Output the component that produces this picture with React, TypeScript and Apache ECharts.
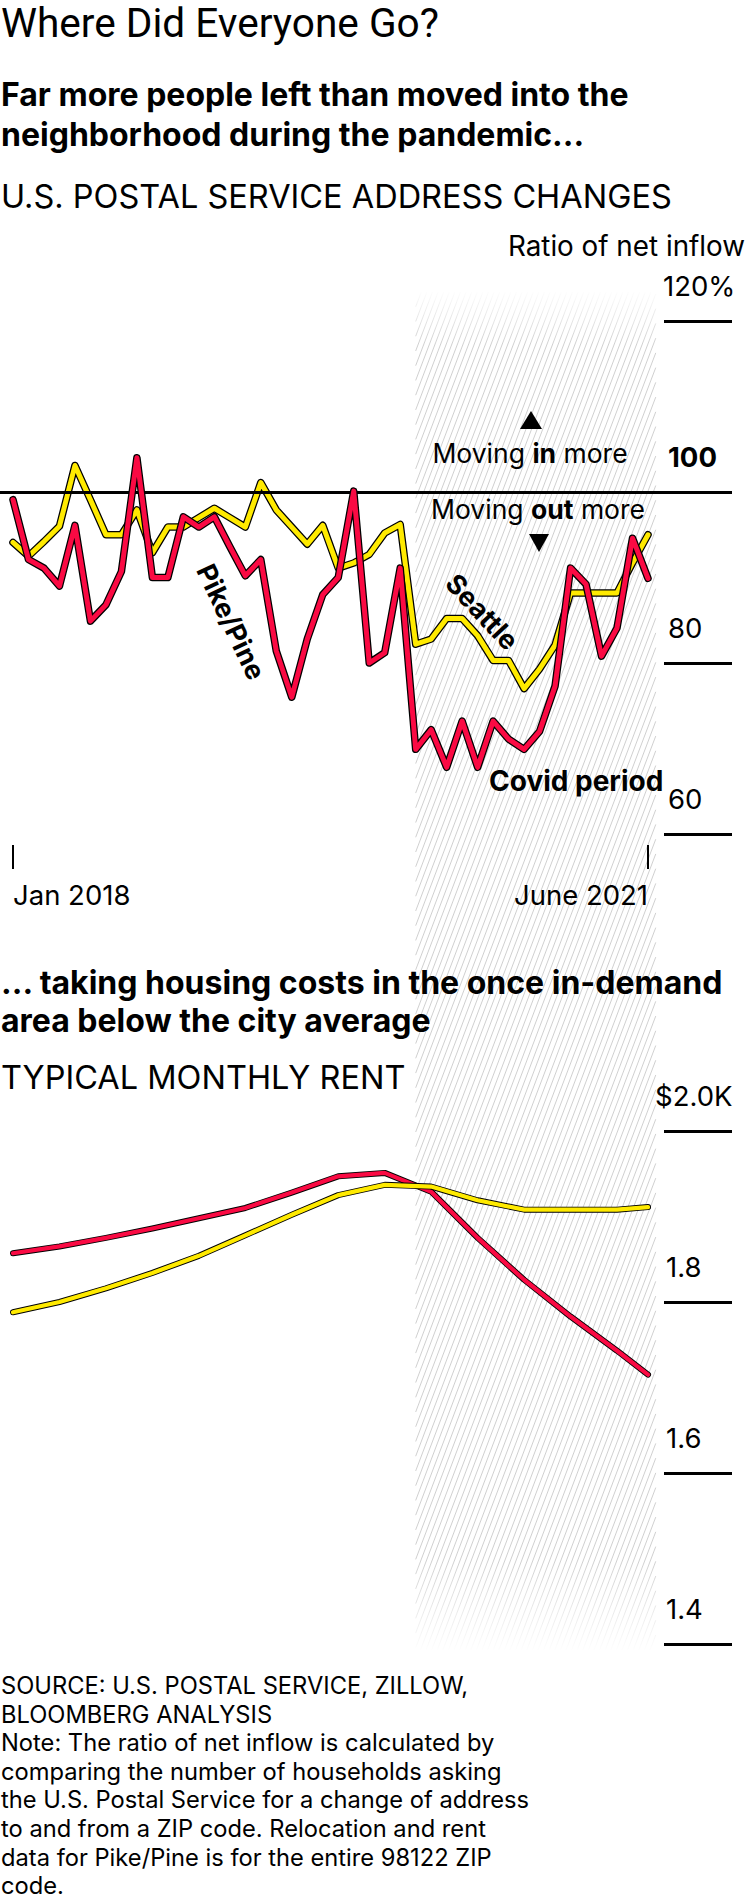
import React, { useEffect, useRef } from "react";
import * as echarts from "echarts";

// ---- Data -----------------------------------------------------------------

// Months are indexed from Jan 2018 (0) to June 2021 (41)
const firstMonth = 0;
const lastMonth = 41;
const monthLabels = ["Jan 2018", "June 2021"];
const covidStartMonth = 26; // March 2020
const covidEndMonth = 41.5; // through June 2021

// USPS address changes: ratio of net inflow (%), monthly
const pikePineInflow = [
  99.1, 92.1, 91.1, 89.0, 96.1, 84.9, 86.8, 90.7, 104.0, 90.0, 90.0, 97.1,
  95.9, 97.1, 93.6, 90.2, 92.1, 81.4, 76.0, 82.8, 88.0, 90.0, 100.1, 80.0,
  81.2, 91.1, 69.9, 72.2, 67.8, 73.2, 67.8, 73.2, 71.1, 69.9, 72.0, 77.3,
  91.1, 89.2, 80.8, 84.1, 94.6, 89.9,
];
const seattleInflow = [
  94.1, 92.5, 94.2, 96.0, 103.1, 99.1, 95.0, 95.0, 97.9, 92.9, 95.9, 95.9,
  97.0, 98.1, 97.0, 95.9, 101.1, 97.9, 95.9, 93.9, 96.1, 91.1, 91.7, 92.7,
  95.2, 96.2, 82.2, 82.8, 85.2, 85.2, 83.2, 80.3, 80.3, 77.0, 79.3, 82.1,
  88.2, 88.2, 88.2, 88.2, 91.7, 95.0,
];
const inflowMin = 60;
const inflowMax = 120;
const inflowStep = 20;

// Zillow typical monthly rent ($)
const rentMonths = [0, 3, 6, 9, 12, 15, 18, 21, 24, 27, 30, 33, 36, 39, 41];
const pikePineRent = [
  1857, 1865, 1875, 1886, 1898, 1910, 1928, 1947, 1951, 1929, 1875, 1826,
  1783, 1743, 1715,
];
const seattleRent = [
  1788, 1800, 1816, 1834, 1854, 1878, 1902, 1925, 1937, 1935, 1919, 1908,
  1908, 1908, 1911,
];
const rentMin = 1400;
const rentMax = 2000;
const rentStep = 200;

// ---- Styling & layout -------------------------------------------------------

const FONT = "Inter, 'Noto Sans', 'DejaVu Sans', sans-serif";
const TITLE_FONT = "Roboto, 'Liberation Sans', sans-serif";
const RED = "#fa0a43";
const YELLOW = "#ffea00";
const INK = "#000";
const AXIS_FONT_SIZE = 27.5;

const X_FIRST = 13; // pixel x of the first month
const X_LAST = 648; // pixel x of the last month
const PLOT_RIGHT = 732; // right end of the axis rules
const PX_PER_MONTH = (X_LAST - X_FIRST) / (lastMonth - firstMonth);
const X_MIN = firstMonth - X_FIRST / PX_PER_MONTH;
const X_MAX = lastMonth + (PLOT_RIGHT - X_LAST) / PX_PER_MONTH;
const monthX = (m: number) => X_FIRST + (m - firstMonth) * PX_PER_MONTH;

const TOP_GRID = { top: 321, height: 513 };
const RENT_GRID = { top: 1131, height: 513 };

const footnote = [
  "SOURCE: U.S. POSTAL SERVICE, ZILLOW,",
  "BLOOMBERG ANALYSIS",
  "Note: The ratio of net inflow is calculated by",
  "comparing the number of households asking",
  "the U.S. Postal Service for a change of address",
  "to and from a ZIP code. Relocation and rent",
  "data for Pike/Pine is for the entire 98122 ZIP",
  "code.",
];

type TextOpts = {
  weight?: string;
  align?: string;
  family?: string;
  rich?: Record<string, any>;
};

// Text placed by its baseline
function txt(text: string, x: number, baseline: number, size: number, o: TextOpts = {}) {
  return {
    type: "text",
    x,
    y: baseline - 0.36 * size,
    z: 20,
    silent: true,
    style: {
      text,
      fill: INK,
      fontFamily: o.family || FONT,
      fontSize: size,
      fontWeight: o.weight || "normal",
      align: o.align || "left",
      verticalAlign: "middle",
      rich: o.rich,
    },
  };
}

// Text rotated about its centre
function rotated(text: string, cx: number, cy: number, size: number, deg: number) {
  return {
    type: "text",
    x: cx,
    y: cy,
    rotation: (deg * Math.PI) / 180,
    z: 20,
    silent: true,
    style: {
      text,
      fill: INK,
      fontFamily: FONT,
      fontSize: size,
      fontWeight: "bold",
      align: "center",
      verticalAlign: "middle",
    },
  };
}

// Diagonal hatching clipped to a rectangle
function hatch(x0: number, x1: number, y0: number, y1: number, step: number, k: number) {
  const out: any[] = [];
  for (let c = x0 - (y1 - y0) * k; c < x1; c += step) {
    const yTop = Math.max(y0, y1 - (x1 - c) / k);
    const yBot = Math.min(y1, y1 - (x0 - c) / k);
    if (yBot <= yTop) continue;
    out.push({
      type: "line",
      silent: true,
      z: 0,
      shape: {
        x1: c + (y1 - yBot) * k,
        y1: yBot,
        x2: c + (y1 - yTop) * k,
        y2: yTop,
      },
      style: { stroke: "#c8c8c8", lineWidth: 0.85 },
    });
  }
  return out;
}

function outlined(
  name: string,
  data: number[][],
  color: string,
  grid: number,
  core: number,
  edge: number,
  z: number
) {
  const base = {
    type: "line",
    name,
    data,
    xAxisIndex: grid === 0 ? 0 : 2,
    yAxisIndex: grid,
    showSymbol: false,
    symbol: "none",
    silent: true,
    emphasis: { disabled: true },
  };
  return [
    { ...base, z, lineStyle: { color: INK, width: edge, cap: "round", join: "round" } },
    { ...base, z: z + 1, lineStyle: { color, width: core, cap: "round", join: "round" } },
  ];
}

// Tick labels are right-anchored at the end of the tick rules; each label
// sits in a box whose width sets where its text starts.
const labelBox = (width: number, bold = false) => ({
  width,
  align: "left",
  fontFamily: FONT,
  fontSize: AXIS_FONT_SIZE,
  fontWeight: bold ? "bold" : "normal",
  color: INK,
});
const tickLabelRich = {
  n: labelBox(66),
  s: labelBox(64),
  w: labelBox(69),
  d: labelBox(77),
  b: labelBox(64, true),
};

function yAxisFor(gridIndex: number, min: number, max: number, interval: number, formatter: (v: number) => string) {
  return {
    type: "value",
    gridIndex,
    min,
    max,
    interval,
    position: "right",
    axisLine: { show: false, onZero: false },
    splitLine: { show: false },
    axisTick: { show: true, inside: true, length: 68, lineStyle: { color: INK, width: 3 } },
    axisLabel: {
      inside: true,
      margin: 0,
      align: "right",
      verticalAlign: "bottom",
      padding: [0, 0, 21, 0],
      fontFamily: FONT,
      fontSize: AXIS_FONT_SIZE,
      color: INK,
      formatter,
      rich: tickLabelRich,
    },
  };
}

function xAxisFor(gridIndex: number, month: number | null, align: string) {
  const show = month !== null;
  return {
    type: "value",
    gridIndex,
    min: X_MIN,
    max: X_MAX,
    position: "bottom",
    offset: 11,
    show,
    axisLine: { show: false, onZero: false },
    splitLine: { show: false },
    axisTick: {
      show,
      customValues: show ? [month] : [],
      length: 24,
      lineStyle: { color: INK, width: 2 },
    },
    axisLabel: {
      show,
      customValues: show ? [month] : [],
      formatter: (v: number) => (v === firstMonth ? monthLabels[0] : monthLabels[1]),
      align,
      margin: 36,
      fontFamily: FONT,
      fontSize: AXIS_FONT_SIZE,
      color: INK,
    },
  };
}

function inflowLabel(v: number) {
  if (v === 100) return `{b|${v}}`;
  if (v === inflowMax) return `{w|${v}%}`;
  return `{s|${v}}`;
}

function rentLabel(v: number) {
  const k = (v / 1000).toFixed(1);
  return v === rentMax ? `{d|$${k}K}` : `{n|${k}}`;
}

function buildOption() {
  const inflowPP = pikePineInflow.map((v, i) => [firstMonth + i, v]);
  const inflowSea = seattleInflow.map((v, i) => [firstMonth + i, v]);
  const rentPP = rentMonths.map((m, i) => [m, pikePineRent[i]]);
  const rentSea = rentMonths.map((m, i) => [m, seattleRent[i]]);

  const bandL = monthX(covidStartMonth);
  const bandR = monthX(covidEndMonth);
  const bandTop = 292;
  const bandBot = 1650;

  const fade = (y0: number, y1: number, fromOpaque: boolean) => ({
    type: "rect",
    silent: true,
    z: 1,
    shape: { x: bandL - 2, y: y0, width: bandR - bandL + 4, height: y1 - y0 },
    style: {
      fill: {
        type: "linear",
        x: 0,
        y: 0,
        x2: 0,
        y2: 1,
        colorStops: [
          { offset: 0, color: fromOpaque ? "rgba(255,255,255,1)" : "rgba(255,255,255,0)" },
          { offset: 1, color: fromOpaque ? "rgba(255,255,255,0)" : "rgba(255,255,255,1)" },
        ],
      },
    },
  });

  const rich = { b: { fontFamily: FONT, fontSize: 26.5, fontWeight: "bold", fill: INK } };

  const elements: any[] = [
    ...hatch(bandL, bandR, bandTop, bandBot, 5.6, 0.38),
    fade(bandTop - 2, 345, true),
    fade(1560, bandBot + 2, false),

    txt("Where Did Everyone Go?", 1, 38, 40.6, { family: TITLE_FONT }),
    txt("Far more people left than moved into the", 1, 106, 32, { weight: "bold" }),
    txt("neighborhood during the pandemic...", 1, 146, 32, { weight: "bold" }),
    txt("U.S. POSTAL SERVICE ADDRESS CHANGES", 1, 208, 32.5),
    txt("Ratio of net inflow", 745, 256, 27.8, { align: "right" }),

    {
      type: "polygon",
      silent: true,
      z: 20,
      shape: { points: [[520, 429], [542, 429], [531, 411]] },
      style: { fill: INK },
    },
    txt("Moving {b|in} more", 530, 463, 26.5, { align: "center", rich }),
    txt("Moving {b|out} more", 538, 519, 26.5, { align: "center", rich }),
    {
      type: "polygon",
      silent: true,
      z: 20,
      shape: { points: [[529, 534], [549, 534], [539, 552]] },
      style: { fill: INK },
    },

    rotated("Pike/Pine", 231, 622, 27, -64.5),
    rotated("Seattle", 482, 612, 27, -47),
    txt("Covid period", 489, 791, 28, { weight: "bold" }),

    txt("... taking housing costs in the once in-demand", 1, 994, 32, { weight: "bold" }),
    txt("area below the city average", 1, 1032, 32, { weight: "bold" }),
    txt("TYPICAL MONTHLY RENT", 1, 1089, 32.5),

    ...footnote.map((line, i) => txt(line, 1, 1694 + i * 28.6, 23.7)),
  ];

  return {
    animation: false,
    backgroundColor: "#fff",
    textStyle: { fontFamily: FONT },
    tooltip: { show: false },
    grid: [
      { left: 0, right: 750 - PLOT_RIGHT, top: TOP_GRID.top, height: TOP_GRID.height, outerBoundsMode: "none" },
      { left: 0, right: 750 - PLOT_RIGHT, top: RENT_GRID.top, height: RENT_GRID.height, outerBoundsMode: "none" },
    ],
    xAxis: [
      xAxisFor(0, firstMonth, "left"),
      xAxisFor(0, lastMonth, "right"),
      xAxisFor(1, null, "left"),
    ],
    yAxis: [
      yAxisFor(0, inflowMin, inflowMax, inflowStep, inflowLabel),
      yAxisFor(1, rentMin, rentMax, rentStep, rentLabel),
    ],
    series: [
      {
        type: "line",
        name: "parity",
        data: [],
        xAxisIndex: 0,
        yAxisIndex: 0,
        z: 2,
        silent: true,
        markLine: {
          silent: true,
          symbol: "none",
          label: { show: false },
          emphasis: { disabled: true },
          lineStyle: { color: INK, width: 3, type: "solid" },
          data: [{ yAxis: 100 }],
        },
      },
      ...outlined("Seattle", inflowSea, YELLOW, 0, 5, 7.5, 3),
      ...outlined("Pike/Pine", inflowPP, RED, 0, 5, 7.5, 5),
      ...outlined("Pike/Pine", rentPP, RED, 1, 4.2, 6, 3),
      ...outlined("Seattle", rentSea, YELLOW, 1, 4.2, 6, 5),
    ],
    graphic: { elements },
  };
}

export default function App() {
  const ref = useRef<HTMLDivElement>(null);
  useEffect(() => {
    const prevMargin = document.body.style.margin;
    document.body.style.margin = "0";
    const chart = echarts.init(ref.current as HTMLDivElement, null, { renderer: "svg" });
    chart.setOption(buildOption() as any);
    return () => {
      chart.dispose();
      document.body.style.margin = prevMargin;
    };
  }, []);
  return <div ref={ref} style={{ width: 750, height: 1900 }} />;
}
